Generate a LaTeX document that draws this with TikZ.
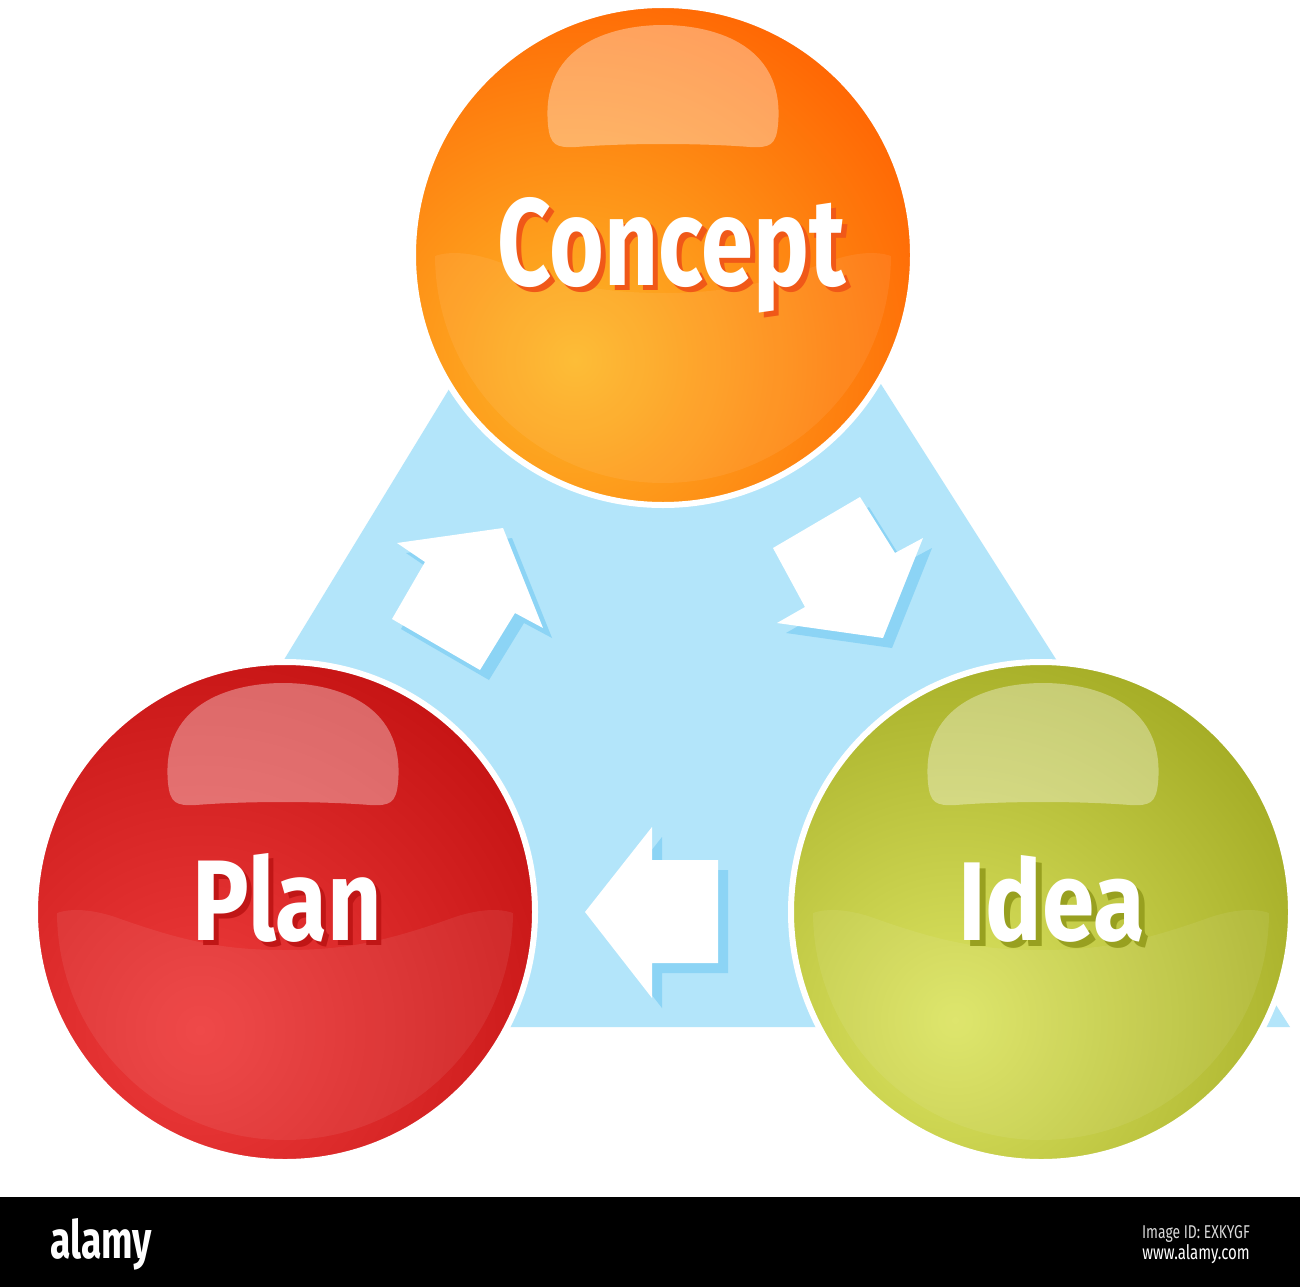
\documentclass[tikz,border=0pt]{standalone}
\usepackage{fontspec}
\usepackage{graphicx}
\newfontfamily\labfont{Fira Sans Bold}
\newfontfamily\barfont{Fira Sans}
\definecolor{tribg}{HTML}{B3E5FA}
\definecolor{arrsh}{HTML}{8CD4F5}
\definecolor{cin}{HTML}{FDB828}
\definecolor{cout}{HTML}{FF5E00}
\definecolor{csh}{HTML}{F05818}
\definecolor{pin}{HTML}{EE3C3C}
\definecolor{pout}{HTML}{C21010}
\definecolor{psh}{HTML}{C01616}
\definecolor{iin}{HTML}{DCE462}
\definecolor{iout}{HTML}{9EA61E}
\definecolor{ish}{HTML}{98A020}
\tikzset{
  ring/.style={draw=white, line width=6pt},
  capfill/.style={fill=white, fill opacity=0.35},
  bandfill/.style={fill=white, fill opacity=0.07},
  arrowbody/.style={fill=white},
  arrowshadow/.style={fill=arrsh},
  lab/.style={anchor=base west, inner sep=0pt, text=white},
}
\newcommand{\capshape}[2]{% center x, top y
  \fill[capfill] ({#1-115},{#2+100}) .. controls ({#1-123},{#2+15}) and ({#1-43},{#2}) .. ({#1},{#2})
    .. controls ({#1+43},{#2}) and ({#1+123},{#2+15}) .. ({#1+115},{#2+100})
    .. controls ({#1+113},{#2+120}) and ({#1+107},{#2+123}) .. ({#1+87},{#2+122})
    .. controls ({#1+37},{#2+118}) and ({#1-37},{#2+118}) .. ({#1-87},{#2+122})
    .. controls ({#1-107},{#2+123}) and ({#1-113},{#2+120}) .. ({#1-115},{#2+100}) -- cycle;}
\newcommand{\bandshape}[2]{% center x, center y
  \begin{scope}
    \clip (#1,#2) circle[radius=228pt];
    \fill[bandfill] ({#1-240},{#2+10}) .. controls ({#1-230},{#2-5}) and ({#1-200},{#2-5}) .. ({#1-170},{#2+5})
      .. controls ({#1-100},{#2+30}) and ({#1-60},{#2+38}) .. ({#1},{#2+38})
      .. controls ({#1+60},{#2+38}) and ({#1+100},{#2+30}) .. ({#1+170},{#2+5})
      .. controls ({#1+200},{#2-5}) and ({#1+230},{#2-5}) .. ({#1+240},{#2+10})
      -- ({#1+240},{#2+240}) -- ({#1-240},{#2+240}) -- cycle;
  \end{scope}}
\begin{document}
\begin{tikzpicture}[x=1pt,y=-1pt]
\useasboundingbox (0,0) rectangle (1300,1287);
\fill[white] (0,0) rectangle (1300,1287);
% background triangle
\fill[tribg] (662,40) coordinate (tA) -- (60,1027) coordinate (tB) -- (1290,1027) coordinate (tC) -- cycle;
% arrows
\fill[arrowshadow, shift={(9,10)}] (397,543) -- (503,528) -- (543,628) -- (515,613) -- (480,670) -- (392,619) -- (425,562) -- cycle;
\fill[arrowbody] (397,543) -- (503,528) -- (543,628) -- (515,613) -- (480,670) -- (392,619) -- (425,562) -- cycle;
\fill[arrowshadow, shift={(9,10)}] (883,638) -- (923,538) -- (895,553) -- (860,497) -- (773,548) -- (805,607) -- (777,623) -- cycle;
\fill[arrowbody] (883,638) -- (923,538) -- (895,553) -- (860,497) -- (773,548) -- (805,607) -- (777,623) -- cycle;
\fill[arrowshadow, shift={(10,10)}] (585,912) -- (652,827) -- (652,860) -- (718,860) -- (718,963) -- (652,963) -- (652,998) -- cycle;
\fill[arrowbody] (585,912) -- (652,827) -- (652,860) -- (718,860) -- (718,963) -- (652,963) -- (652,998) -- cycle;
% Concept circle
\begin{scope}
  \clip (663,255) circle[radius=250pt];
  \shade[inner color=cin, outer color=cout] (575,360) circle[radius=430pt];
\end{scope}
\bandshape{663}{255}
\capshape{663}{25}
\draw[ring] (663,255) circle[radius=250pt];
% Plan circle
\begin{scope}
  \clip (285,912) circle[radius=250pt];
  \shade[inner color=pin, outer color=pout] (200,1030) circle[radius=440pt];
\end{scope}
\bandshape{285}{912}
\capshape{283}{683}
\draw[ring] (285,912) circle[radius=250pt];
% Idea circle
\begin{scope}
  \clip (1041,912) circle[radius=250pt];
  \shade[inner color=iin, outer color=iout] (955,1020) circle[radius=440pt];
\end{scope}
\bandshape{1041}{912}
\capshape{1043}{683}
\draw[ring] (1041,912) circle[radius=250pt];
% labels
\node[lab, text=csh] at (502,290) {\resizebox{348pt}{88pt}{\labfont Concept}};
\node[lab] (tconcept) at (497,285) {\resizebox{348pt}{88pt}{\labfont Concept}};
\node[lab, text=psh] at (197,945) {\resizebox{190pt}{87pt}{\labfont Plan}};
\node[lab] (tplan) at (192,940) {\resizebox{190pt}{87pt}{\labfont Plan}};
\node[lab, text=ish] at (964,946) {\resizebox{187pt}{85pt}{\labfont Idea}};
\node[lab] (tidea) at (958,940) {\resizebox{187pt}{85pt}{\labfont Idea}};
% bottom bar
\fill[black] (0,1197) rectangle (1300,1287);
\node[lab] (alamy) at (50,1258) {\resizebox{102pt}{40pt}{\labfont alamy}};
\node[inner sep=0pt, anchor=base east, text=white!85!black] (imgid) at (1250,1238) {\resizebox{!}{13pt}{\scalebox{0.75}[1]{\barfont Image ID: EXKYGF}}};
\node[inner sep=0pt, anchor=base east, text=white] (www) at (1250,1259) {\resizebox{!}{15pt}{\scalebox{0.75}[1]{\barfont www.alamy.com}}};
\end{tikzpicture}
\end{document}
